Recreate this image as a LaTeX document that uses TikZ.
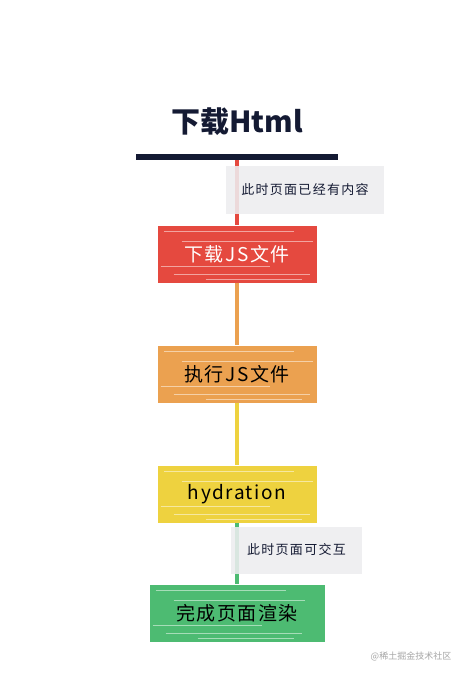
\documentclass[tikz,border=0pt]{standalone}
\usepackage{fontspec}
\setmainfont{Noto Sans CJK SC}
\usetikzlibrary{positioning}
\usetikzlibrary{calc}
\definecolor{titlenavy}{HTML}{141A33}
\definecolor{stepred}{HTML}{E5493F}
\definecolor{steporange}{HTML}{EBA150}
\definecolor{stepyellow}{HTML}{EED23F}
\definecolor{stepgreen}{HTML}{4DBB72}
\definecolor{notegray}{HTML}{EDEDF0}
\tikzset{
  streaks/.style={path picture={
      \foreach \f/\a/\b in {0.1/0.04/0.85, 0.28/0.15/0.97, 0.72/0.02/0.7, 0.86/0.1/0.95, 0.94/0.3/0.9}{
        \draw[white, opacity=0.5, line width=1.1pt]
          ($(path picture bounding box.north west)!\f!(path picture bounding box.south west) + (\a*160pt,0)$) --
          ($(path picture bounding box.north west)!\f!(path picture bounding box.south west) + (\b*160pt,0)$);
      }}},
  stagebox/.style={rectangle, minimum width=159pt, minimum height=57pt, inner sep=0pt,
    font=\fontsize{19}{22}\selectfont\addfontfeature{LetterSpace=8}, streaks},
  notebox/.style={rectangle, fill=notegray, fill opacity=0.88, text opacity=1, text=titlenavy,
    minimum height=47pt, inner sep=0pt, font=\fontsize{13}{15}\selectfont\addfontfeature{LetterSpace=10}},
  link/.style={line width=4pt}
}
\begin{document}
\begin{tikzpicture}[x=1pt,y=-1pt]
  \useasboundingbox[fill=white] (0,0) rectangle (474,679);
  % title and bar
  \node[font=\fontsize{29}{32}\selectfont\bfseries, text=titlenavy] (title) at (237,122) {下载Html};
  \node[fill=titlenavy, minimum width=202pt, minimum height=6pt, inner sep=0pt] (bar) at (237,157) {};
  % stages
  \node[stagebox, fill=stepred, text=white] (download) at (237,254) {下载JS文件};
  \node[stagebox, fill=steporange, text=black] (execute) at (237,374) {执行JS文件};
  \node[stagebox, fill=stepyellow, text=black] (hydrate) at (237,494) {hydration};
  \node[stagebox, fill=stepgreen, text=black, minimum width=175pt] (render) at (237,613) {完成页面渲染};
  % connectors
  \draw[link, stepred] (bar) -- (download);
  \draw[link, steporange] (download) -- (execute);
  \draw[link, stepyellow] (execute) -- (hydrate);
  \draw[link, stepgreen] (hydrate) -- (render);
  % notes on top of the lines
  \node[notebox, minimum width=158pt] (contentnote) at (305,190) {此时页面已经有内容};
  \node[notebox, minimum width=131pt] (interactnote) at (296.5,550) {此时页面可交互};
  \node[text=gray!70, font=\fontsize{9}{11}\selectfont] (mark) at (411,656) {@稀土掘金技术社区};
\end{tikzpicture}
\end{document}
